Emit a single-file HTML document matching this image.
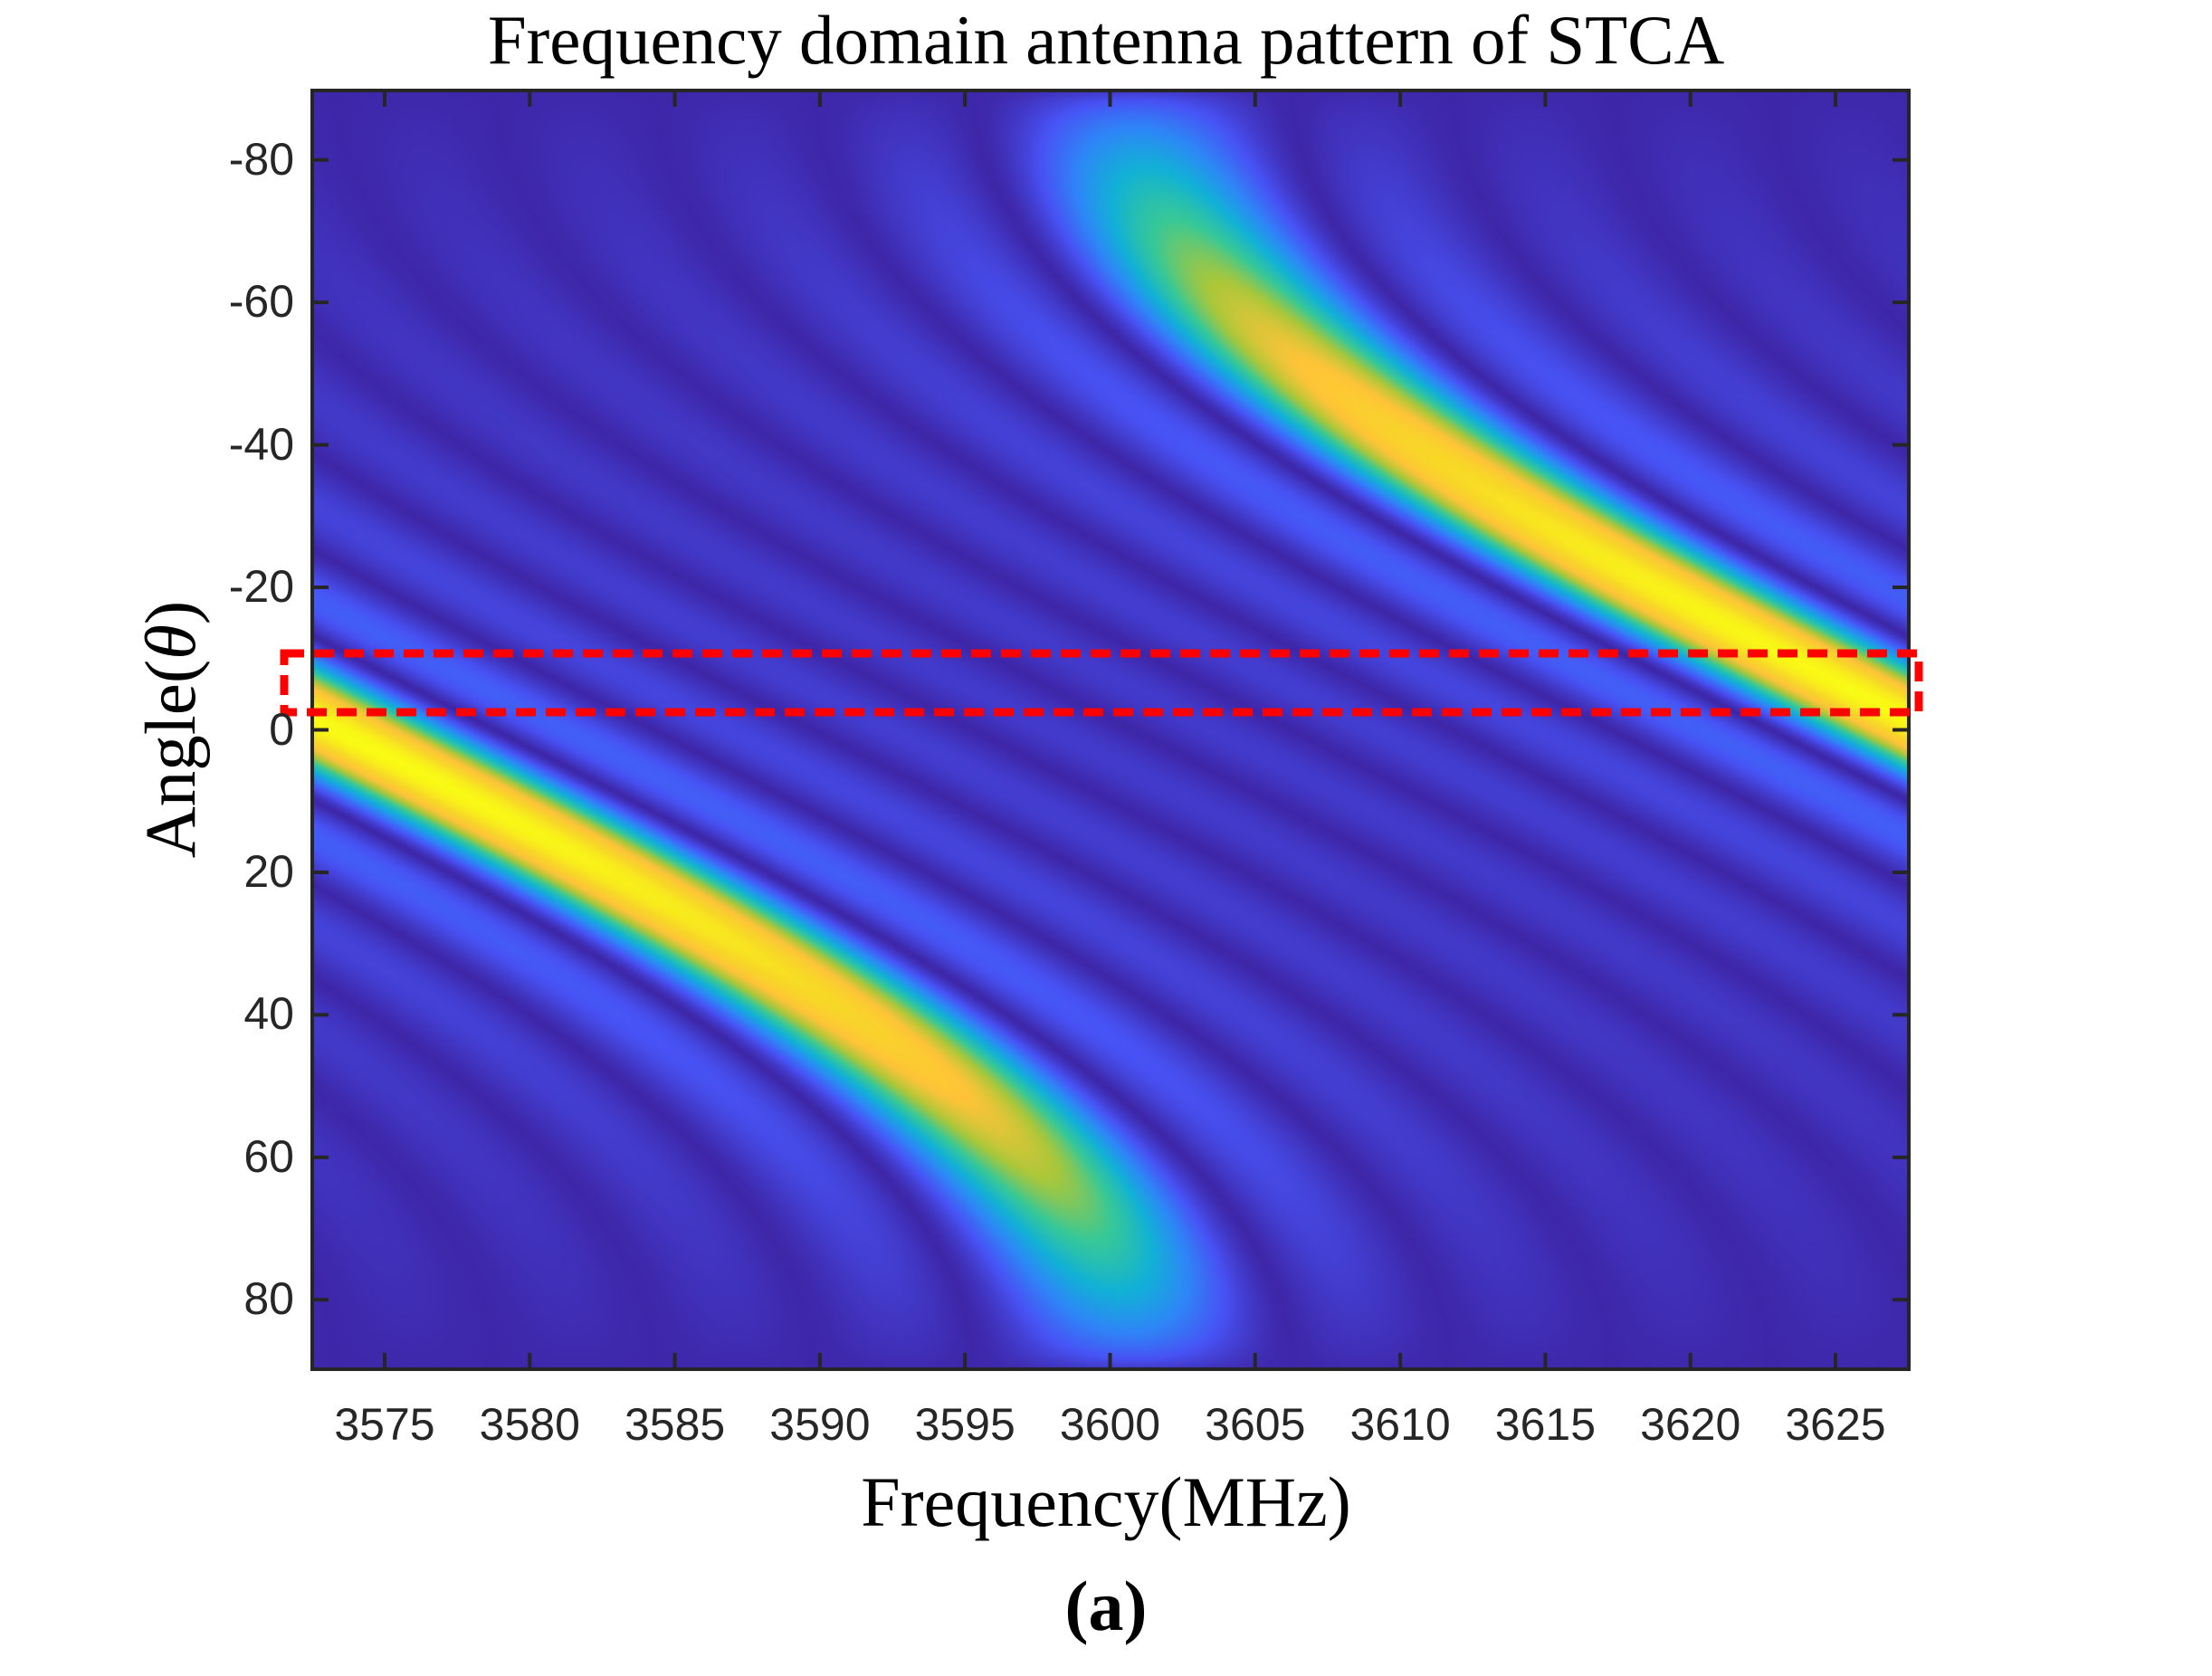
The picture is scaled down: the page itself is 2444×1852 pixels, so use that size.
<!DOCTYPE html>
<html><head><meta charset="utf-8"><style>
html,body{margin:0;padding:0;background:#fff;}
body{width:2444px;height:1852px;position:relative;overflow:hidden;}
canvas{position:absolute;left:343px;top:98px;}
.t{position:absolute;font-family:"Liberation Serif",serif;color:#000;white-space:nowrap;}
.k{position:absolute;font-family:"Liberation Sans",sans-serif;font-size:50px;color:#262626;white-space:nowrap;}
</style></head><body>
<canvas id="c" width="1768" height="1417"></canvas>
<svg width="2444" height="1852" style="position:absolute;left:0;top:0">
<rect x="345" y="100" width="1764" height="1413" fill="none" stroke="#262626" stroke-width="4"/>
<g stroke="#262626" stroke-width="4" id="ticks"></g>
<rect x="314" y="722" width="1806" height="65" fill="none" stroke="#ff0000" stroke-width="9" stroke-dasharray="22,11"/>
</svg>
<div class="t" style="left:0;width:2444px;text-align:center;top:0px;font-size:77px;margin-left:0px;">Frequency domain antenna pattern of STCA</div>
<div class="t" style="left:0;width:2444px;text-align:center;top:1615px;font-size:78px;margin-left:0px;">Frequency(MHz)</div>
<div class="t" style="left:0;width:2444px;text-align:center;top:1730px;font-size:78px;font-weight:bold;margin-left:0px;">(a)</div>
<div class="t" style="left:190px;top:806px;font-size:79px;transform:translate(-50%,-50%) rotate(-90deg);">Angle(<i>θ</i>)</div>
<div id="lab"></div>
<script>
var c=document.getElementById('c'),ctx=c.getContext('2d');
var W=c.width,H=c.height,img=ctx.createImageData(W,H),d=img.data;
var cm=[[0,0.2422,0.1504,0.6603],[0.125,0.2810,0.3228,0.9579],[0.25,0.1786,0.5289,0.9682],[0.375,0.0689,0.6948,0.8394],[0.5,0.2161,0.7843,0.5923],[0.625,0.6720,0.7793,0.2227],[0.75,0.9970,0.7659,0.2199],[0.875,0.9697,0.8500,0.1500],[1,0.9769,0.9839,0.0805]];
function col(v){v=Math.max(0,Math.min(1,v));for(var i=1;i<cm.length;i++){if(v<=cm[i][0]){var a=cm[i-1],b=cm[i],t=(v-a[0])/(b[0]-a[0]);return[(a[1]+(b[1]-a[1])*t)*255,(a[2]+(b[2]-a[2])*t)*255,(a[3]+(b[3]-a[3])*t)*255];}}return[0,0,0];}
var N=10;
for(var y=0;y<H;y++){var th=(-90+180*(y+0.5)/H)*Math.PI/180;var s=Math.sin(th);var env=Math.pow(Math.max(Math.cos(th),0),0.6);
for(var x=0;x<W;x++){var f=3572.44+(x+0.5)*(55.2/W);var u=(f-3573.3)/27.5;var ps=Math.PI*(s-u);
var den=N*Math.sin(ps/2);var af=Math.abs(den)<1e-9?1:Math.abs(Math.sin(N*ps/2)/den);
var rgb=col(Math.pow(af,1.25)*env);var i=(y*W+x)*4;d[i]=rgb[0];d[i+1]=rgb[1];d[i+2]=rgb[2];d[i+3]=255;}}
ctx.putImageData(img,0,0);
var g=document.getElementById('ticks'),lab=document.getElementById('lab'),h='',L='';
for(var k=0;k<11;k++){var X=425+k*160.3;h+='<line x1="'+X+'" y1="100" x2="'+X+'" y2="118"/><line x1="'+X+'" y1="1513" x2="'+X+'" y2="1495"/>';
L+='<div class="k" style="left:'+(X-80)+'px;width:160px;text-align:center;top:1545px">'+(3575+5*k)+'</div>';}
for(var a=-80;a<=80;a+=20){var Y=98+(a+90)*(1417/180);h+='<line x1="345" y1="'+Y+'" x2="363" y2="'+Y+'"/><line x1="2109" y1="'+Y+'" x2="2091" y2="'+Y+'"/>';
L+='<div class="k" style="left:160px;width:165px;text-align:right;top:'+(Y-30)+'px">'+a+'</div>';}
g.innerHTML=h;lab.innerHTML=L;
</script>
</body></html>
